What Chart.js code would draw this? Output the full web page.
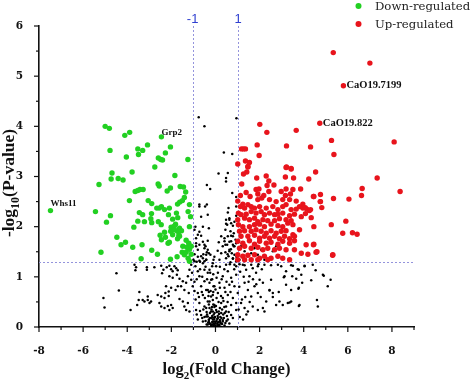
<!DOCTYPE html>
<html>
<head>
<meta charset="utf-8">
<script src="https://cdn.jsdelivr.net/npm/chart.js@4.4.1/dist/chart.umd.min.js"></script>
<style>
    html, body { margin: 0; padding: 0; background: #fff; }
    canvas { display: block; }
</style>
</head>
<body>
<canvas id="volcanoChart" width="474" height="379"></canvas>
<script>
// [log2 fold change, -log10 p-value]
const downRegulated = [
    [-5.00, 4.00], [-4.81, 3.96], [-4.11, 3.82], [-3.89, 3.88], [-2.45, 3.79], [-4.78, 3.52], [-3.52, 3.55],
    [-3.30, 3.52], [-3.08, 3.63], [-3.49, 3.44], [-2.04, 3.59], [-2.27, 3.47], [-4.04, 3.39], [-2.59, 3.37],
    [-2.48, 3.34], [-2.40, 3.33], [-1.25, 3.34], [-2.75, 3.19], [-4.69, 3.07], [-3.78, 3.09], [-1.84, 3.02],
    [-4.73, 2.95], [-4.41, 2.96], [-4.19, 2.93], [-5.28, 2.84], [-2.60, 2.85], [-2.55, 2.81], [-2.04, 2.77],
    [-1.60, 2.80], [-1.45, 2.79], [-3.42, 2.74], [-3.28, 2.74], [-3.64, 2.70], [-3.52, 2.72], [-2.19, 2.71],
    [-1.35, 2.69], [-3.90, 2.52], [-3.05, 2.52], [-2.89, 2.46], [-2.66, 2.37], [-2.55, 2.37], [-2.45, 2.40],
    [-2.09, 2.37], [-1.72, 2.45], [-1.62, 2.49], [-1.50, 2.52], [-1.41, 2.58], [-1.18, 2.44], [-5.44, 2.30],
    [-4.76, 2.22], [-3.45, 2.28], [-3.30, 2.24], [-2.90, 2.26], [-2.31, 2.34], [-2.13, 2.24], [-1.77, 2.27],
    [-1.24, 2.30], [-1.13, 2.20], [-4.94, 2.09], [-3.52, 2.11], [-3.22, 2.10], [-2.93, 2.16], [-2.89, 2.08],
    [-2.59, 2.10], [-2.46, 2.04], [-1.94, 2.15], [-1.81, 2.05], [-1.71, 2.18], [-3.70, 1.99], [-2.01, 1.99],
    [-1.87, 2.01], [-1.63, 1.97], [-1.18, 2.00], [-2.31, 1.89], [-2.03, 1.91], [-1.94, 1.84], [-1.72, 1.91],
    [-1.86, 1.94], [-1.66, 1.83], [-1.54, 1.92], [-4.47, 1.79], [-2.51, 1.83], [-2.45, 1.74], [-2.27, 1.79],
    [-2.15, 1.67], [-2.09, 1.69], [-1.72, 1.76], [-1.63, 1.81], [-1.33, 1.73], [-4.28, 1.64], [-4.08, 1.69],
    [-3.75, 1.59], [-3.33, 1.64], [-2.89, 1.53], [-2.63, 1.45], [-1.48, 1.61], [-1.30, 1.59], [-1.21, 1.67],
    [-1.18, 1.55], [-1.10, 1.61], [-5.19, 1.49], [-3.37, 1.36], [-2.04, 1.35], [-1.74, 1.40], [-1.51, 1.49],
    [-1.41, 1.44], [-1.33, 1.49], [-1.24, 1.37], [-1.18, 1.31], [-1.10, 1.45], [-7.48, 2.32]
];

const upRegulated = [
    [5.34, 5.47], [7.00, 5.26], [5.80, 4.81], [4.73, 4.06], [2.01, 4.04], [2.33, 3.88], [3.66, 3.92],
    [1.18, 3.55], [1.27, 3.55], [1.36, 3.55], [1.89, 3.63], [1.98, 3.42], [3.22, 3.61], [4.31, 3.59],
    [5.26, 3.72], [5.37, 3.44], [8.10, 3.69], [1.01, 3.25], [1.36, 3.31], [1.54, 3.28], [1.47, 3.19],
    [3.22, 3.19], [3.43, 3.16], [7.33, 2.97], [6.65, 2.76], [6.62, 2.62], [8.37, 2.70], [6.05, 2.55],
    [4.76, 2.50], [4.46, 2.60], [5.91, 2.11], [5.77, 1.87], [6.21, 1.88], [6.42, 1.85], [5.31, 1.43],
    [4.60, 1.50], [4.44, 1.64], [4.26, 2.32], [4.08, 2.26], [4.14, 2.35],
    [1.47, 3.20], [3.20, 3.18], [3.43, 3.15], [4.54, 3.09], [1.42, 3.09], [1.27, 3.05], [1.87, 2.97],
    [2.30, 3.01], [2.42, 2.91], [3.17, 2.99], [3.54, 2.97], [4.23, 2.95], [1.19, 2.85], [1.84, 2.74],
    [1.97, 2.75], [2.34, 2.82], [2.65, 2.83], [3.20, 2.75], [3.51, 2.74], [3.86, 2.75], [1.39, 2.68],
    [1.13, 2.62], [1.57, 2.60], [1.92, 2.65], [2.19, 2.62], [2.42, 2.70], [2.98, 2.70], [3.17, 2.62],
    [3.40, 2.65], [4.44, 2.60], [4.76, 2.64], [5.35, 2.56], [1.01, 2.51], [1.92, 2.54], [2.10, 2.57],
    [2.45, 2.54], [2.75, 2.50], [3.05, 2.54], [3.36, 2.54], [3.66, 2.51], [3.96, 2.45], [4.75, 2.50],
    [4.82, 2.38], [1.13, 2.40], [1.24, 2.45], [1.32, 2.37], [1.47, 2.44], [1.62, 2.40], [1.77, 2.37],
    [2.00, 2.40], [2.30, 2.37], [2.60, 2.40], [2.83, 2.34], [3.05, 2.40], [3.20, 2.44], [3.43, 2.34],
    [3.66, 2.35], [3.81, 2.40], [3.96, 2.37], [4.07, 2.38], [4.31, 2.34], [1.04, 2.27], [1.16, 2.24],
    [1.39, 2.25], [1.62, 2.30], [1.84, 2.27], [2.07, 2.30], [2.22, 2.24], [2.45, 2.27], [2.68, 2.24],
    [2.83, 2.25], [3.05, 2.27], [3.36, 2.22], [3.58, 2.25], [3.89, 2.20], [1.01, 2.14], [1.32, 2.17],
    [1.54, 2.14], [1.77, 2.17], [1.92, 2.10], [2.15, 2.14], [2.37, 2.12], [2.68, 2.12], [2.90, 2.16],
    [3.20, 2.14], [3.43, 2.12], [4.34, 2.18], [5.25, 2.04], [1.04, 2.04], [1.24, 2.00], [1.54, 2.00],
    [1.77, 2.04], [2.00, 2.05], [2.22, 2.00], [2.52, 2.05], [2.83, 2.02], [3.05, 2.00], [3.28, 2.07],
    [3.51, 2.04], [4.46, 2.00], [1.09, 1.91], [1.32, 1.92], [1.62, 1.91], [1.84, 1.94], [2.07, 1.91],
    [2.30, 1.87], [2.52, 1.92], [2.75, 1.87], [2.98, 1.91], [3.20, 1.92], [3.51, 1.84], [3.81, 1.94],
    [1.16, 1.81], [1.47, 1.81], [1.77, 1.83], [2.00, 1.77], [2.22, 1.81], [2.45, 1.77], [2.68, 1.81],
    [2.90, 1.76], [3.13, 1.81], [3.36, 1.76], [3.58, 1.81], [1.01, 1.71], [1.24, 1.67], [1.54, 1.72],
    [1.77, 1.65], [2.00, 1.71], [2.30, 1.67], [2.52, 1.69], [2.83, 1.65], [3.05, 1.71], [3.36, 1.67],
    [3.58, 1.72], [4.11, 1.64], [4.46, 1.65], [1.09, 1.57], [1.32, 1.61], [1.62, 1.57], [1.92, 1.59],
    [2.15, 1.54], [2.37, 1.57], [2.68, 1.54], [2.90, 1.57], [3.20, 1.54], [3.58, 1.54], [3.89, 1.47],
    [4.19, 1.45], [4.56, 1.49], [5.32, 1.44], [1.01, 1.44], [1.24, 1.41], [1.47, 1.43], [1.77, 1.44],
    [2.00, 1.37], [2.22, 1.41], [2.52, 1.37], [2.83, 1.41], [3.05, 1.37], [3.36, 1.34], [1.01, 1.34],
    [1.32, 1.34], [1.62, 1.34], [1.92, 1.34], [2.37, 1.34]
];

const notSignificant = [
    [-5.08, 0.58], [-5.03, 0.39], [-4.49, 1.07], [-4.38, 0.73], [-3.85, 0.34], [-3.67, 1.24], [-3.60, 1.19],
    [-3.63, 1.13], [-3.11, 1.19], [-3.11, 1.14], [-2.77, 1.19], [-3.45, 0.70], [-3.48, 0.54], [-3.30, 0.54],
    [-3.22, 0.51], [-3.07, 0.61], [-3.07, 0.54], [-2.99, 0.48], [-2.92, 0.51], [-3.55, 0.44], [-2.46, 1.22],
    [-2.36, 1.14], [-2.42, 1.07], [-2.21, 1.19], [-2.09, 1.22], [-2.01, 1.15], [-1.94, 1.11], [-1.86, 1.21],
    [-1.78, 1.17], [-1.71, 1.13], [-2.09, 1.01], [-1.94, 0.98], [-1.75, 1.04], [-1.63, 0.96], [-1.48, 0.91],
    [-2.24, 0.81], [-2.12, 0.71], [-2.01, 0.78], [-1.81, 0.74], [-1.71, 0.81], [-2.62, 0.64], [-2.46, 0.61],
    [-2.31, 0.58], [-2.27, 0.68], [-2.12, 0.62], [-2.54, 0.48], [-2.46, 0.41], [-2.31, 0.38], [-2.16, 0.42],
    [-2.09, 0.34], [-2.01, 0.44], [-1.94, 0.38], [-1.63, 0.56], [-1.48, 0.51], [-1.41, 0.41], [-1.33, 0.34],
    [-1.25, 0.48], [-1.18, 0.31], [-1.56, 0.81], [-1.41, 0.74], [-1.33, 0.88], [-1.21, 0.68], [-1.10, 0.94],
    [-1.03, 0.81], [-1.18, 1.14], [-1.10, 1.24], [-1.06, 1.08], [-1.00, 1.34], [-1.25, 1.01],
    [-0.88, 1.61], [-0.80, 1.54], [-0.73, 1.64], [-0.65, 1.41], [-0.91, 1.21], [-0.80, 1.11], [-0.73, 1.01],
    [-0.57, 1.27], [-0.50, 1.14], [-0.42, 1.34], [-0.35, 1.08], [-0.50, 0.91], [-0.65, 0.81], [-0.80, 0.68],
    [-0.57, 0.64], [-0.42, 0.74], [-0.27, 0.88], [-0.20, 0.61], [-0.35, 0.51], [-0.73, 0.48], [-0.50, 0.41],
    [-0.27, 0.38], [-0.12, 0.31], [-0.88, 0.34], [-0.65, 0.24], [-0.42, 0.21], [-0.20, 0.18], [-0.09, 0.11],
    [-0.57, 0.11], [-0.35, 0.05], [-0.80, 0.15], [-0.20, 0.05], [-0.12, 0.54], [-0.24, 1.08], [-0.15, 1.21],
    [-0.30, 1.47], [-0.45, 1.61], [-0.09, 1.34], [-0.09, 0.81], [-0.95, 0.90], [-0.85, 0.95], [-0.70, 1.15],
    [-0.60, 1.00], [-0.45, 1.20], [-0.38, 0.95], [-0.30, 0.70], [-0.15, 0.95], [-0.62, 0.70], [-0.48, 0.58],
    [-0.32, 0.62], [-0.90, 0.55], [-0.75, 0.60], [-0.55, 0.35], [-0.40, 0.30], [-0.25, 0.28], [-0.70, 0.32],
    [-0.85, 0.25], [-0.60, 0.18], [-0.45, 0.12], [-0.30, 0.15], [-0.15, 0.22], [-0.05, 0.40], [-0.10, 0.70],
    [-0.95, 0.72], [-0.85, 1.30], [-0.70, 1.30], [-0.55, 1.45], [-0.95, 1.45],
    [-0.76, 4.18], [-0.50, 4.00], [0.95, 4.16], [0.38, 3.48], [0.76, 3.45], [0.14, 3.06], [0.56, 3.07],
    [0.48, 2.97], [0.48, 2.90], [-0.39, 2.83], [-0.24, 2.75], [0.76, 2.67], [0.94, 2.59], [-0.73, 2.44],
    [-0.73, 2.40], [-0.47, 2.40], [0.94, 2.40], [0.56, 2.28], [-0.65, 2.20], [0.94, 2.22], [0.63, 2.14],
    [0.86, 2.10], [0.48, 2.06], [-0.91, 2.00], [-0.57, 2.00], [-0.95, 1.94], [-0.73, 1.90], [-0.65, 1.82],
    [-0.88, 1.77], [0.26, 1.81], [0.41, 1.77], [0.71, 1.82], [0.15, 1.69], [0.45, 1.64], [0.63, 1.70],
    [-0.88, 1.67], [-0.57, 1.70], [-0.50, 1.64], [0.79, 1.64], [0.94, 1.67], [-0.39, 2.44], [-0.35, 2.24],
    [-0.30, 1.97], [-0.80, 1.84], [-0.35, 1.72], [-0.50, 1.57], [-0.39, 1.49], [-0.80, 1.40], [-0.57, 1.37],
    [-0.42, 1.44], [-0.95, 1.31], [-0.73, 1.32], [-0.50, 1.31],
    [0.59, 2.37], [0.63, 2.17], [0.48, 2.14], [0.71, 2.07], [0.53, 2.04], [0.79, 2.02], [0.45, 1.94],
    [0.68, 1.91], [0.83, 1.87], [0.56, 1.81], [0.79, 1.81], [0.91, 1.74], [0.71, 1.71], [0.53, 1.64],
    [0.83, 1.61], [0.63, 1.54], [0.45, 1.49], [0.74, 1.47], [0.86, 1.44], [0.59, 1.41], [0.79, 1.36],
    [0.94, 1.31], [0.68, 1.29], [0.48, 1.24], [0.86, 1.24], [1.09, 1.25], [1.32, 1.23], [1.62, 1.24],
    [1.92, 1.21], [2.22, 1.24], [2.52, 1.23], [2.83, 1.24], [3.43, 1.23], [4.04, 1.21], [4.41, 1.24],
    [-0.35, 1.54], [-0.23, 1.44], [-0.42, 1.34], [-0.12, 1.27], [-0.27, 1.14], [0.03, 1.21], [0.18, 1.34],
    [0.26, 1.47], [0.33, 1.61], [0.41, 1.71], [0.48, 1.37], [0.63, 1.51], [0.79, 1.37], [0.86, 1.61],
    [0.94, 1.21], [0.11, 1.08], [0.33, 1.01], [0.56, 1.11], [0.71, 0.98], [0.94, 1.04], [-0.20, 0.94],
    [-0.05, 0.81], [0.18, 0.88], [0.41, 0.78], [0.63, 0.84], [0.86, 0.81], [-0.35, 0.74], [-0.12, 0.64],
    [0.11, 0.68], [0.33, 0.58], [0.56, 0.64], [0.79, 0.58], [1.01, 0.68], [-0.27, 0.51], [-0.05, 0.44],
    [0.26, 0.48], [0.48, 0.41], [0.71, 0.44], [0.94, 0.48], [-0.42, 0.38], [-0.20, 0.31], [0.03, 0.34],
    [0.26, 0.28], [0.48, 0.31], [0.71, 0.24], [0.94, 0.34], [-0.35, 0.21], [-0.12, 0.15], [0.11, 0.18],
    [0.33, 0.11], [0.56, 0.15], [0.79, 0.18], [-0.27, 0.08], [-0.05, 0.05], [0.18, 0.05], [0.41, 0.03],
    [0.63, 0.07], [0.03, 0.00], [0.26, 0.00],
    [-0.10, 0.02], [0.00, 0.03], [0.08, 0.06], [0.15, 0.10], [-0.15, 0.10], [0.05, 0.12], [-0.05, 0.16],
    [0.12, 0.02], [-0.20, 0.02], [0.20, 0.14], [0.30, 0.06], [-0.30, 0.12], [0.00, 0.08], [0.10, 0.22],
    [-0.08, 0.25], [0.22, 0.20], [0.38, 0.18], [-0.25, 0.18], [0.06, 0.30], [-0.02, 0.20], [0.16, 0.26],
    [0.35, 0.25], [-0.18, 0.35], [0.45, 0.08], [0.52, 0.22], [-0.40, 0.05], [-0.50, 0.20], [0.60, 0.30],
    [0.40, 0.40], [0.20, 0.38], [-0.10, 0.45], [0.14, 0.50], [0.36, 0.52], [0.55, 0.50], [-0.30, 0.45],
    [0.05, 0.58], [0.25, 0.62], [0.45, 0.70], [0.68, 0.70], [-0.22, 0.72], [0.00, 0.75], [0.20, 0.78],
    [0.50, 0.90], [0.75, 0.90], [0.28, 0.95], [0.05, 0.98], [-0.10, 1.05], [0.40, 1.15], [0.65, 1.25],
    [0.20, 1.20], [0.85, 1.15], [-0.05, 1.40], [0.10, 1.52], [0.55, 1.45], [0.70, 1.55], [0.95, 1.40],
    [-0.06, 0.01], [0.06, 0.01], [0.18, 0.02], [-0.14, 0.05], [0.24, 0.08], [-0.24, 0.06], [0.10, 0.09],
    [-0.03, 0.11], [0.33, 0.14], [-0.12, 0.19], [0.08, 0.16], [0.27, 0.18], [-0.33, 0.09], [0.15, 0.31],
    [-0.04, 0.28], [0.30, 0.35], [-0.16, 0.40], [0.42, 0.28], [0.02, 0.42], [-0.38, 0.25], [0.50, 0.12],
    [0.13, 0.04], [-0.08, 0.07], [0.20, 0.11],
    [1.16, 1.61], [1.32, 1.51], [1.44, 1.41], [1.62, 1.47], [1.77, 1.57], [1.92, 1.44], [2.07, 1.54],
    [2.22, 1.34], [2.37, 1.57], [2.60, 1.51], [2.75, 1.61], [2.98, 1.21], [3.20, 1.11], [1.09, 1.34],
    [1.24, 1.24], [1.39, 1.14], [1.54, 1.01], [1.69, 1.17], [1.84, 1.08], [2.00, 0.94], [1.32, 0.88],
    [1.47, 0.74], [1.62, 0.61], [1.77, 0.81], [1.92, 0.68], [2.15, 0.88], [2.30, 0.51], [2.45, 0.74],
    [2.60, 0.68], [2.75, 0.44], [2.90, 0.51], [3.05, 0.44], [3.28, 0.48], [3.43, 0.51], [1.16, 0.48],
    [1.32, 0.38], [1.47, 0.31], [1.69, 0.41], [1.92, 0.34], [2.15, 0.38], [2.22, 0.31], [3.78, 1.14],
    [3.89, 1.04], [3.93, 0.88], [3.76, 0.76], [3.43, 0.74], [4.87, 1.04], [3.81, 0.44], [3.13, 1.01],
    [2.52, 0.94], [4.34, 0.93], [4.54, 1.13], [4.91, 1.02], [5.22, 0.94], [5.09, 0.81], [4.60, 0.54],
    [4.64, 0.41], [3.78, 0.78], [3.78, 0.42], [3.36, 0.49], [2.87, 0.70], [2.60, 0.60], [2.45, 0.73],
    [3.20, 0.84], [3.48, 1.01], [3.66, 0.96], [3.73, 1.15], [4.04, 1.22], [3.51, 1.22], [3.10, 0.99],
    [1.10, 0.20], [1.25, 0.15], [1.40, 0.25], [1.05, 0.35], [1.20, 0.55], [1.35, 0.60], [1.55, 0.50],
    [1.08, 0.80], [1.28, 1.00], [1.12, 1.10], [1.50, 0.90], [1.70, 0.95], [1.85, 0.85], [2.05, 0.60],
    [2.10, 1.15], [1.95, 1.25]
];

const seriesNames = ['Down-regulated', 'Up-regulated'];
const foldCutoffs = [-1, 1];
const foldCutoffLabels = ['-1', '1'];
const pCutoff = 1.3;

const xMajorTicks = [-8, -6, -4, -2, 0, 2, 4, 6, 8];
const yMajorTicks = [0, 1, 2, 3, 4, 5, 6];

const geneNames = ['Whs11', 'Grp2', 'CaO19.7199', 'CaO19.822'];
const genePoints = [[-7.48, 2.32], [-2.45, 3.79], [5.80, 4.81], [4.73, 4.06]];

const toXY = arr => arr.map(p => ({ x: p[0], y: p[1] }));

// how each gene label sits next to its point
const geneLabelStyle = {
    'Whs11': { dx: 0, dy: -5, size: 9, baseline: 'alphabetic' },
    'Grp2': { dx: 0, dy: -2, size: 9, baseline: 'alphabetic' },
    'CaO19.7199': { dx: 3, dy: 0, size: 10.5, baseline: 'middle' },
    'CaO19.822': { dx: 3, dy: 0, size: 10.5, baseline: 'middle' }
};

const volcanoDecor = {
    id: 'volcanoDecor',
    beforeDatasetsDraw(chart) {
        const { ctx, chartArea, scales: { x, y } } = chart;
        ctx.save();
        ctx.strokeStyle = '#9494dc';
        ctx.lineWidth = 1;
        ctx.setLineDash([2, 2]);
        foldCutoffs.forEach(v => {
            const px = Math.round(x.getPixelForValue(v)) + 0.5;
            ctx.beginPath();
            ctx.moveTo(px, chartArea.top);
            ctx.lineTo(px, chartArea.bottom);
            ctx.stroke();
        });
        const py = Math.round(y.getPixelForValue(pCutoff)) + 0.5;
        ctx.beginPath();
        ctx.moveTo(chartArea.left, py);
        ctx.lineTo(chartArea.right, py);
        ctx.stroke();
        ctx.restore();
    },
    afterDraw(chart) {
        const { ctx, chartArea, scales: { x, y } } = chart;
        ctx.save();

        // tick marks, long on labelled values and short in between
        ctx.strokeStyle = '#111';
        ctx.lineWidth = 1.2;
        x.ticks.forEach(t => {
            const px = x.getPixelForValue(t.value);
            const len = xMajorTicks.includes(t.value) ? 5 : 3;
            ctx.beginPath();
            ctx.moveTo(px, chartArea.bottom);
            ctx.lineTo(px, chartArea.bottom + len);
            ctx.stroke();
        });
        y.ticks.forEach((t, i) => {
            const py = y.getPixelForValue(t.value);
            ctx.beginPath();
            ctx.moveTo(chartArea.left, py);
            ctx.lineTo(chartArea.left - 5, py);
            ctx.stroke();
            if (i < y.ticks.length - 1) {
                const mid = y.getPixelForValue((t.value + y.ticks[i + 1].value) / 2);
                ctx.beginPath();
                ctx.moveTo(chartArea.left, mid);
                ctx.lineTo(chartArea.left - 3, mid);
                ctx.stroke();
            }
        });

        // cutoff labels above the plot
        ctx.fillStyle = '#2f3fd0';
        ctx.font = '13px "Liberation Sans", Arial, sans-serif';
        ctx.textBaseline = 'alphabetic';
        foldCutoffs.forEach((v, i) => {
            const px = x.getPixelForValue(v);
            if (v < 0) {
                ctx.textAlign = 'right';
                ctx.fillText(foldCutoffLabels[i], px + 5, 23);
            } else {
                ctx.textAlign = 'center';
                ctx.fillText(foldCutoffLabels[i], px + 0.5, 23);
            }
        });

        // axis titles with subscripts
        const drawSubTitle = (parts, size) => {
            const mainFont = `bold ${size}px "Liberation Serif", "Times New Roman", serif`;
            const subFont = `bold ${Math.round(size * 0.68)}px "Liberation Serif", "Times New Roman", serif`;
            let total = 0;
            parts.forEach(p => {
                ctx.font = p.sub ? subFont : mainFont;
                total += ctx.measureText(p.text).width;
            });
            let cx = -total / 2;
            ctx.textAlign = 'left';
            parts.forEach(p => {
                ctx.font = p.sub ? subFont : mainFont;
                ctx.fillText(p.text, cx, p.sub ? size * 0.28 : 0);
                cx += ctx.measureText(p.text).width;
            });
        };
        ctx.fillStyle = '#111';
        ctx.textBaseline = 'alphabetic';

        ctx.save();
        ctx.translate((chartArea.left + chartArea.right) / 2, 374);
        drawSubTitle([{ text: 'log' }, { text: '2', sub: true }, { text: '(Fold Change)' }], 16.5);
        ctx.restore();

        ctx.save();
        ctx.translate(14, 183);
        ctx.rotate(-Math.PI / 2);
        drawSubTitle([{ text: '-log' }, { text: '10', sub: true }, { text: '(P-value)' }], 17.5);
        ctx.restore();

        // gene labels
        geneNames.forEach((name, i) => {
            const st = geneLabelStyle[name];
            const px = x.getPixelForValue(genePoints[i][0]);
            const py = y.getPixelForValue(genePoints[i][1]);
            ctx.font = `bold ${st.size}px "Liberation Serif", "Times New Roman", serif`;
            ctx.textAlign = 'left';
            ctx.textBaseline = st.baseline;
            ctx.fillStyle = '#111';
            ctx.fillText(name, px + st.dx, py + st.dy);
        });

        // legend
        const legendRows = [6, 24];
        chart.data.datasets.slice(0, 2).forEach((ds, i) => {
            ctx.fillStyle = ds.backgroundColor;
            ctx.beginPath();
            ctx.arc(358.5, legendRows[i], 3, 0, Math.PI * 2);
            ctx.fill();
            ctx.fillStyle = '#222';
            ctx.font = '11.7px "DejaVu Serif", serif';
            ctx.textAlign = 'left';
            ctx.textBaseline = 'middle';
            ctx.fillText(ds.label, 375, legendRows[i] + 0.5);
        });

        ctx.restore();
    }
};

const tickFont = { family: '"DejaVu Serif", serif', size: 10.5, weight: 'bold' };

new Chart(document.getElementById('volcanoChart'), {
    type: 'scatter',
    data: {
        datasets: [
            {
                label: seriesNames[0],
                data: toXY(downRegulated),
                backgroundColor: '#22d022',
                pointRadius: 2.7,
                borderWidth: 0
            },
            {
                label: seriesNames[1],
                data: toXY(upRegulated),
                backgroundColor: '#e8141c',
                pointRadius: 2.7,
                borderWidth: 0
            },
            {
                label: 'Other',
                data: toXY(notSignificant),
                backgroundColor: '#000',
                pointRadius: 1.25,
                borderWidth: 0
            }
        ]
    },
    options: {
        responsive: false,
        animation: false,
        devicePixelRatio: 1,
        layout: { padding: { top: 26, right: 60, left: 0, bottom: 0 } },
        plugins: {
            legend: { display: false },
            tooltip: { enabled: false }
        },
        scales: {
            x: {
                type: 'linear',
                min: -8,
                max: 9,
                afterFit: scale => { scale.height = 52; },
                grid: { display: false },
                border: { display: true, color: '#111', width: 1.6 },
                ticks: {
                    stepSize: 1,
                    autoSkip: false,
                    maxRotation: 0,
                    padding: 10,
                    color: '#111',
                    font: tickFont,
                    callback: v => xMajorTicks.includes(v) ? String(v) : ''
                }
            },
            y: {
                type: 'linear',
                min: 0,
                max: 6,
                afterFit: scale => { scale.width = 39; },
                grid: { display: false },
                border: { display: true, color: '#111', width: 1.6 },
                ticks: {
                    stepSize: 1,
                    padding: 8,
                    color: '#111',
                    font: tickFont,
                    callback: v => yMajorTicks.includes(v) ? String(v) : ''
                }
            }
        }
    },
    plugins: [volcanoDecor]
});
</script>
</body>
</html>
